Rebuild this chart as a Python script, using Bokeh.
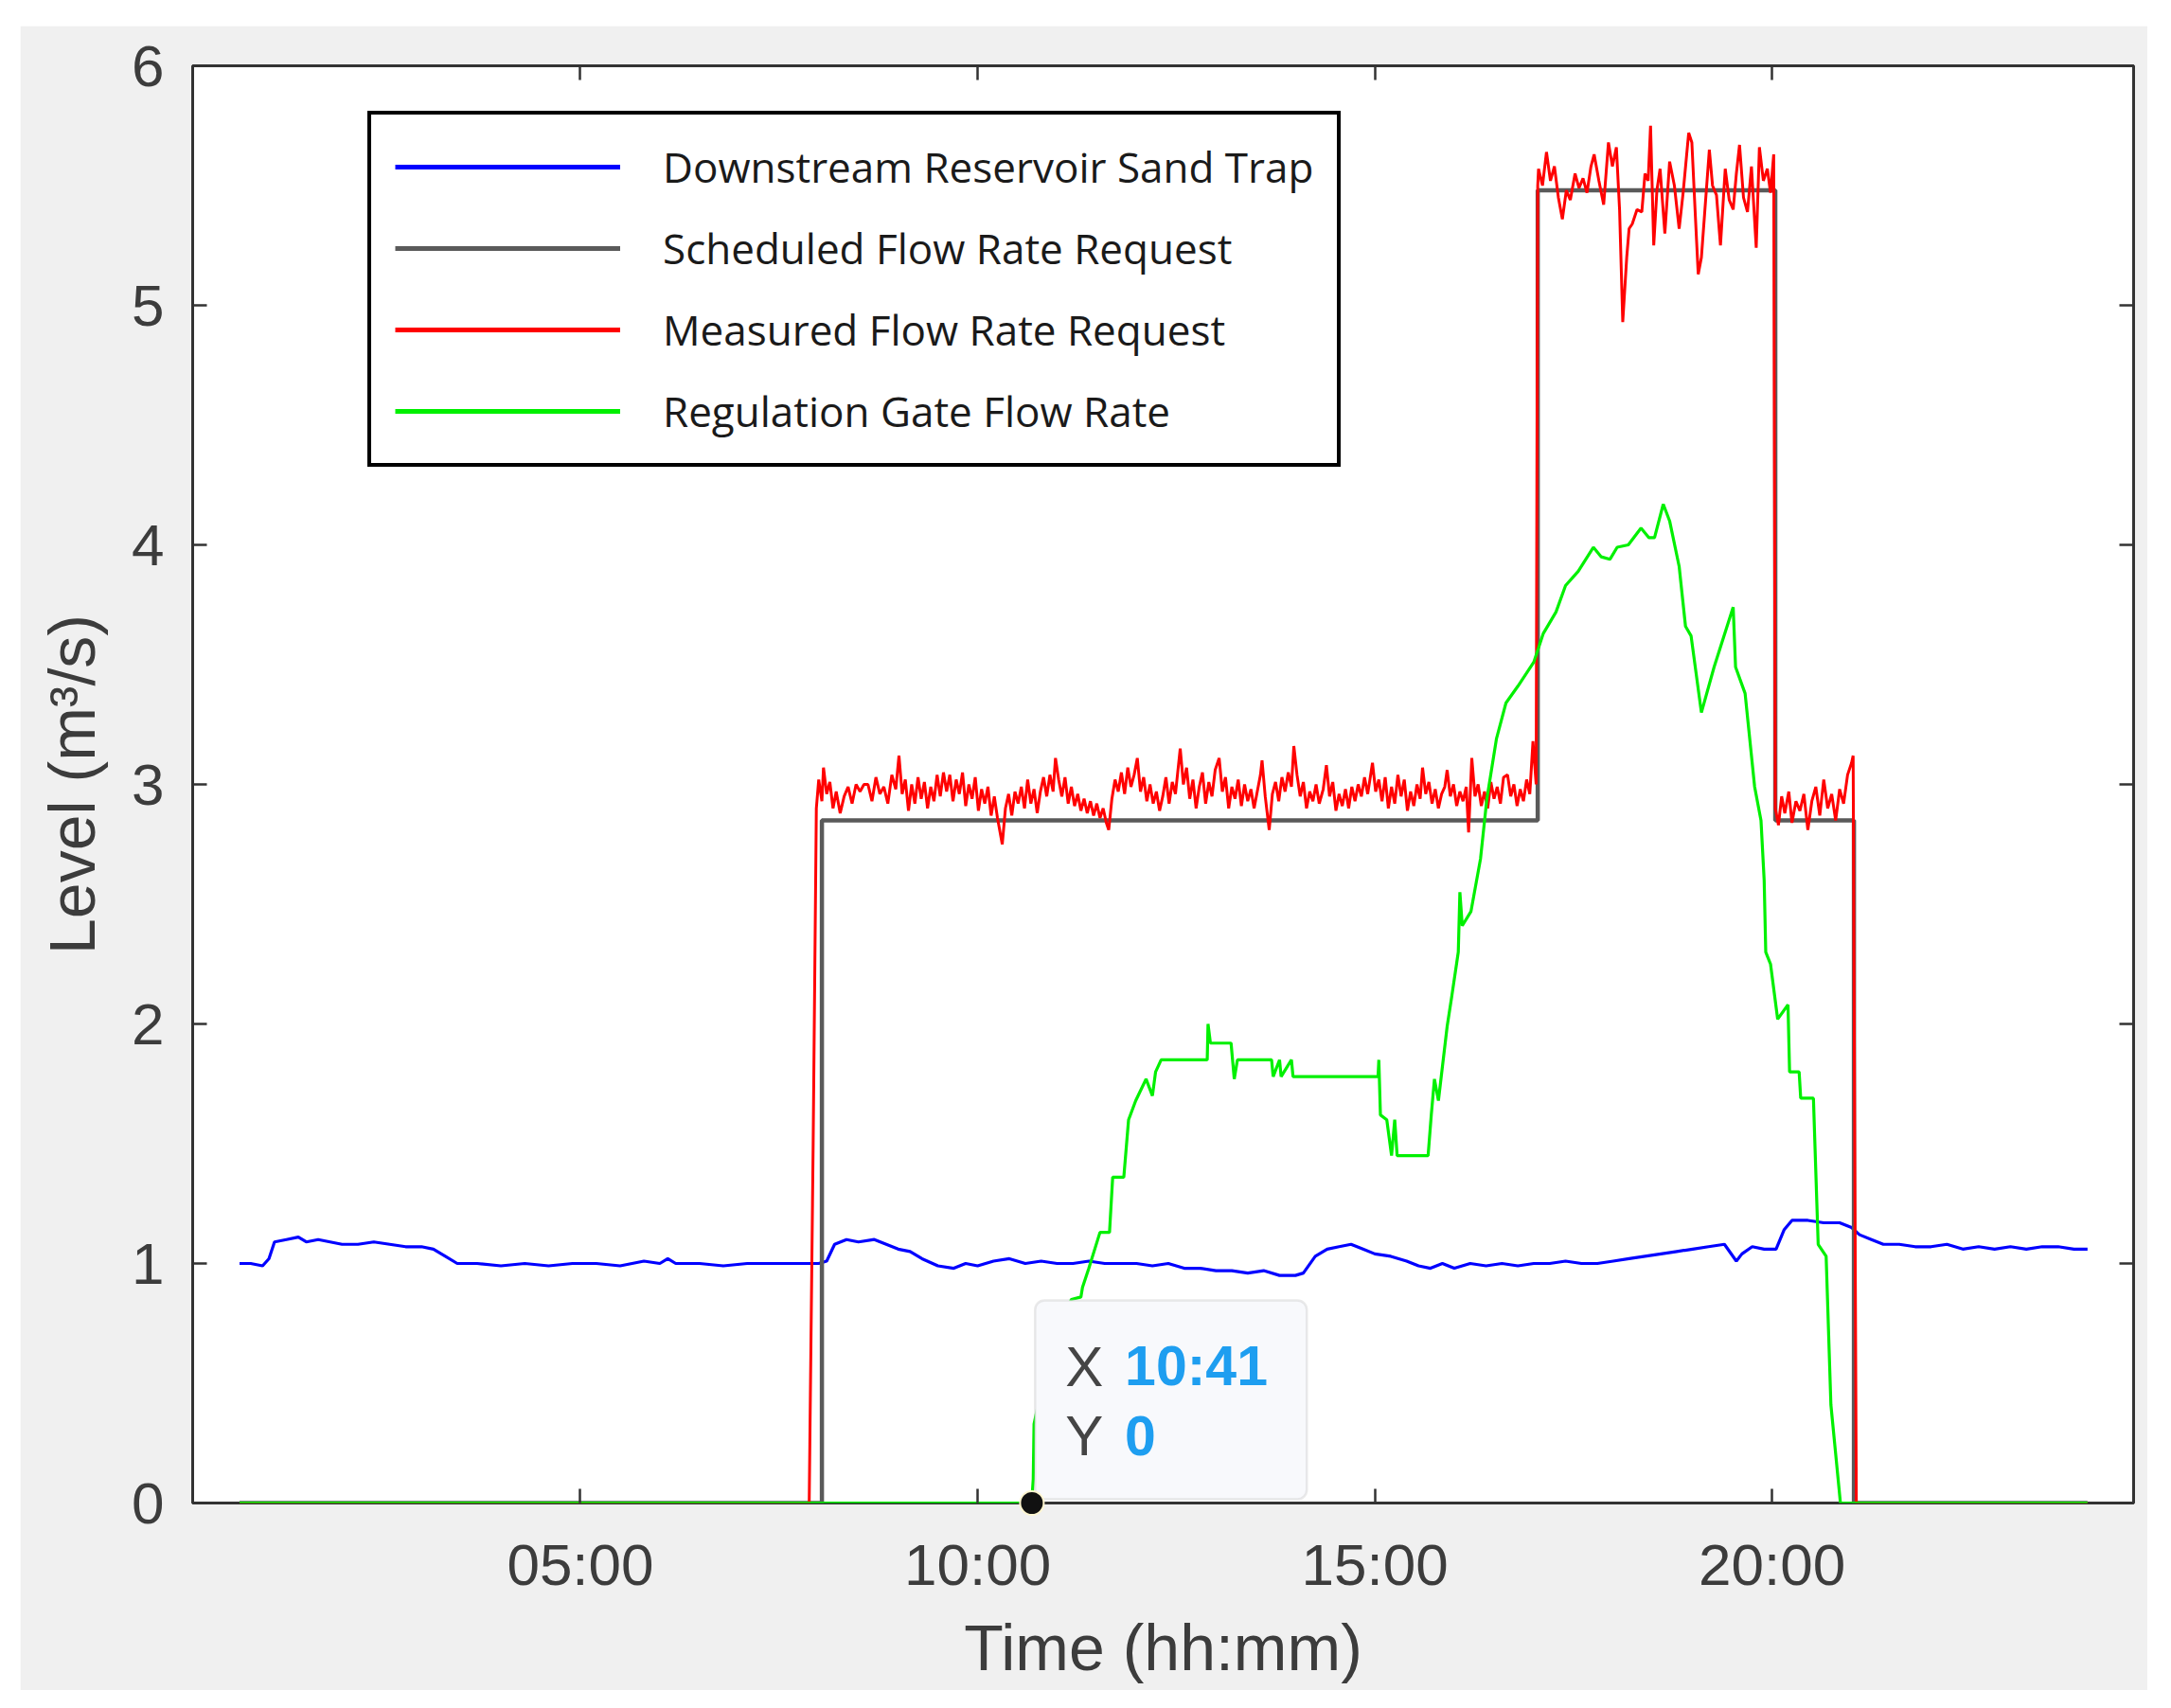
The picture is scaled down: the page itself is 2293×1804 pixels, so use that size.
from bokeh.plotting import figure
from bokeh.models import (Range1d, LinearAxis, FixedTicker, Legend, LegendItem,
                          BoxAnnotation, Label)
from bokeh.embed import file_html
from bokeh.resources import INLINE

# ---------------- data (time in hours of day) ----------------
x_ticks = [5, 10, 15, 20]
x_tick_labels = ["05:00", "10:00", "15:00", "20:00"]
y_ticks = [0, 1, 2, 3, 4, 5, 6]

series_names = ["Downstream Reservoir Sand Trap", "Scheduled Flow Rate Request",
                "Measured Flow Rate Request", "Regulation Gate Flow Rate"]

reservoir_t = [0.71, 0.85, 1.00, 1.08, 1.15, 1.30, 1.45, 1.55, 1.70, 1.85, 2.00, 2.20, 2.40,
               2.60, 2.80, 3.00, 3.15, 3.30, 3.45, 3.70, 4.00, 4.30, 4.60, 4.90, 5.20, 5.50,
               5.80, 6.00, 6.10, 6.20, 6.50, 6.80, 7.10, 7.40, 7.70, 8.00, 8.10, 8.20, 8.35,
               8.50, 8.70, 8.85, 9.00, 9.15, 9.30, 9.50, 9.70, 9.85, 10.00, 10.20, 10.40,
               10.60, 10.80, 11.00, 11.20, 11.40, 11.60, 11.80, 12.00, 12.20, 12.40, 12.60,
               12.80, 13.00, 13.20, 13.40, 13.60, 13.80, 14.00, 14.10, 14.25, 14.40, 14.55,
               14.70, 14.85, 15.00, 15.20, 15.40, 15.55, 15.70, 15.85, 16.00, 16.20, 16.40,
               16.60, 16.80, 17.00, 17.20, 17.40, 17.60, 17.80, 18.00, 18.20, 18.40, 18.60,
               18.80, 19.00, 19.20, 19.40, 19.55, 19.62, 19.75, 19.90, 20.05, 20.15, 20.25,
               20.45, 20.65, 20.85, 21.00, 21.10, 21.25, 21.40, 21.60, 21.80, 22.00, 22.20,
               22.40, 22.60, 22.80, 23.00, 23.20, 23.40, 23.60, 23.80, 23.97]
reservoir_v = [1.00, 1.00, 0.99, 1.02, 1.09, 1.10, 1.11, 1.09, 1.10, 1.09, 1.08, 1.08, 1.09,
               1.08, 1.07, 1.07, 1.06, 1.03, 1.00, 1.00, 0.99, 1.00, 0.99, 1.00, 1.00, 0.99,
               1.01, 1.00, 1.02, 1.00, 1.00, 0.99, 1.00, 1.00, 1.00, 1.00, 1.01, 1.08, 1.10,
               1.09, 1.10, 1.08, 1.06, 1.05, 1.02, 0.99, 0.98, 1.00, 0.99, 1.01, 1.02,
               1.00, 1.01, 1.00, 1.00, 1.01, 1.00, 1.00, 1.00, 0.99, 1.00, 0.98,
               0.98, 0.97, 0.97, 0.96, 0.97, 0.95, 0.95, 0.96, 1.03, 1.06, 1.07,
               1.08, 1.06, 1.04, 1.03, 1.01, 0.99, 0.98, 1.00, 0.98, 1.00, 0.99,
               1.00, 0.99, 1.00, 1.00, 1.01, 1.00, 1.00, 1.01, 1.02, 1.03, 1.04,
               1.05, 1.06, 1.07, 1.08, 1.01, 1.04, 1.07, 1.06, 1.06, 1.14, 1.18,
               1.18, 1.17, 1.17, 1.15, 1.12, 1.10, 1.08, 1.08, 1.07, 1.07, 1.08,
               1.06, 1.07, 1.06, 1.07, 1.06, 1.07, 1.07, 1.06, 1.06]

scheduled_t = [0.71, 8.04, 8.04, 17.05, 17.05, 20.04, 20.04, 21.03, 21.03, 23.97]
scheduled_v = [0.00, 0.00, 2.85, 2.85, 5.48, 5.48, 2.85, 2.85, 0.00, 0.00]

measured_t = [0.71, 7.88, 7.93, 7.97, 8.00, 8.04, 8.06, 8.10, 8.14, 8.18, 8.22, 8.27, 8.32,
              8.37, 8.42, 8.47, 8.52, 8.57, 8.62, 8.67, 8.72, 8.77, 8.82, 8.87, 8.92, 8.97,
              9.01, 9.05, 9.09, 9.13, 9.17, 9.21, 9.25, 9.29, 9.33, 9.37, 9.41, 9.45, 9.49,
              9.53, 9.57, 9.61, 9.65, 9.69, 9.73, 9.77, 9.81, 9.85, 9.89, 9.93, 9.97, 10.01,
              10.05, 10.09, 10.13, 10.17, 10.21, 10.25, 10.31, 10.35, 10.39, 10.43, 10.47,
              10.51, 10.55, 10.59, 10.63, 10.67, 10.71, 10.75, 10.79, 10.83, 10.87, 10.91,
              10.95, 10.98, 11.02, 11.06, 11.10, 11.14, 11.18, 11.22, 11.26, 11.30, 11.34,
              11.38, 11.42, 11.46, 11.50, 11.54, 11.58, 11.62, 11.65, 11.69, 11.73, 11.77,
              11.81, 11.85, 11.89, 11.93, 11.97, 12.01, 12.05, 12.09, 12.13, 12.17, 12.21,
              12.25, 12.29, 12.33, 12.37, 12.41, 12.45, 12.49, 12.55, 12.59, 12.63, 12.67,
              12.71, 12.75, 12.79, 12.83, 12.87, 12.91, 12.95, 12.99, 13.04, 13.08, 13.12,
              13.16, 13.20, 13.24, 13.28, 13.32, 13.36, 13.40, 13.44, 13.48, 13.52, 13.56,
              13.58, 13.62, 13.67, 13.71, 13.75, 13.79, 13.83, 13.87, 13.91, 13.95, 13.98,
              14.02, 14.06, 14.10, 14.14, 14.18, 14.22, 14.26, 14.30, 14.35, 14.39, 14.43,
              14.47, 14.51, 14.55, 14.59, 14.63, 14.67, 14.71, 14.75, 14.79, 14.83, 14.87,
              14.91, 14.97, 15.01, 15.05, 15.09, 15.13, 15.17, 15.21, 15.25, 15.29, 15.33,
              15.37, 15.41, 15.45, 15.49, 15.53, 15.57, 15.60, 15.64, 15.68, 15.72, 15.76,
              15.80, 15.84, 15.88, 15.91, 15.95, 15.99, 16.03, 16.07, 16.11, 16.15, 16.18,
              16.22, 16.26, 16.30, 16.34, 16.38, 16.42, 16.46, 16.50, 16.54, 16.58, 16.62,
              16.67, 16.71, 16.75, 16.79, 16.83, 16.87, 16.91, 16.95, 16.99, 17.03, 17.05,
              17.06, 17.11, 17.16, 17.21, 17.26, 17.31, 17.36, 17.41, 17.46, 17.52, 17.57,
              17.62, 17.67, 17.72, 17.76, 17.82, 17.88, 17.94, 17.99, 18.04, 18.08, 18.12,
              18.17, 18.20, 18.24, 18.30, 18.36, 18.40, 18.44, 18.47, 18.51, 18.55, 18.59,
              18.65, 18.71, 18.77, 18.83, 18.88, 18.95, 18.99, 19.03, 19.07, 19.11, 19.15,
              19.21, 19.25, 19.30, 19.35, 19.41, 19.46, 19.51, 19.55, 19.59, 19.64, 19.69,
              19.74, 19.80, 19.84, 19.89, 19.94, 19.98, 20.02, 20.04, 20.08, 20.12, 20.16,
              20.21, 20.25, 20.30, 20.35, 20.40, 20.45, 20.50, 20.55, 20.60, 20.65, 20.70,
              20.75, 20.80, 20.85, 20.90, 20.95, 21.00, 21.02, 21.04, 21.06, 23.97]
measured_v = [0.00, 0.00, 1.50, 2.90, 3.02, 2.93, 3.07, 2.96, 3.01, 2.90, 2.97, 2.88, 2.95,
              2.99, 2.92, 3.00, 2.97, 3.00, 3.00, 2.93, 3.03, 2.96, 2.99, 2.92, 3.04, 2.98,
              3.12, 2.96, 3.02, 2.89, 3.00, 2.92, 3.03, 2.94, 3.01, 2.90, 2.99, 2.93, 3.04,
              2.95, 3.05, 2.97, 3.04, 2.93, 3.02, 2.96, 3.05, 2.91, 3.00, 2.94, 3.03, 2.89,
              2.98, 2.92, 2.99, 2.87, 2.95, 2.86, 2.75, 2.90, 2.96, 2.87, 2.97,
              2.92, 2.99, 2.90, 3.02, 2.92, 2.98, 2.88, 2.97, 3.03, 2.95, 3.04,
              2.97, 3.11, 3.02, 2.95, 3.03, 2.92, 2.99, 2.91, 2.96, 2.89, 2.94,
              2.88, 2.93, 2.87, 2.92, 2.86, 2.90, 2.84, 2.81, 2.94, 3.02, 2.97,
              3.05, 2.96, 3.07, 2.99, 3.04, 3.11, 2.97, 3.03, 2.93, 3.00, 2.92,
              2.97, 2.89, 2.95, 3.03, 2.92, 3.01, 2.96, 3.15, 3.00, 3.07, 2.94,
              3.02, 2.90, 2.99, 3.05, 2.92, 3.01, 2.95, 3.06, 3.11, 2.97, 3.03,
              2.90, 2.99, 2.94, 3.02, 2.91, 3.00, 2.93, 2.98, 2.90, 2.97, 3.04,
              3.10, 2.95, 2.81, 2.96, 3.01, 2.93, 3.03, 2.97, 3.05, 2.99, 3.16,
              3.04, 2.95, 3.01, 2.90, 2.97, 2.93, 3.00, 2.92, 2.98, 3.08, 2.95,
              3.01, 2.89, 2.96, 2.91, 2.98, 2.90, 2.99, 2.93, 3.00, 2.95, 3.03,
              2.96, 3.09, 2.97, 3.02, 2.93, 3.03, 2.90, 2.99, 2.92, 3.04, 2.95,
              3.02, 2.89, 2.97, 2.91, 3.00, 2.94, 3.07, 2.96, 3.01, 2.92, 2.98,
              2.90, 2.96, 2.99, 3.06, 2.95, 3.00, 2.91, 2.97, 2.93, 2.99, 2.80,
              3.11, 2.95, 3.00, 2.91, 2.97, 2.90, 3.01, 2.94, 2.99, 2.92, 3.03,
              3.04, 2.95, 3.00, 2.91, 2.98, 2.93, 3.02, 2.96, 3.18, 3.00, 5.50,
              5.57, 5.50, 5.64, 5.52, 5.58, 5.45, 5.36, 5.48, 5.44, 5.55, 5.49,
              5.53, 5.47, 5.58, 5.63, 5.52, 5.42, 5.68, 5.58, 5.66, 5.40, 4.93,
              5.20, 5.32, 5.34, 5.40, 5.39, 5.55, 5.52, 5.75, 5.25, 5.48, 5.57,
              5.30, 5.60, 5.50, 5.32, 5.47, 5.72, 5.68, 5.40, 5.13, 5.20, 5.38,
              5.65, 5.50, 5.46, 5.25, 5.57, 5.44, 5.40, 5.55, 5.67, 5.45, 5.39,
              5.58, 5.24, 5.66, 5.52, 5.57, 5.47, 5.63, 2.90, 2.83, 2.95, 2.88,
              2.97, 2.84, 2.93, 2.89, 2.96, 2.81, 2.93, 2.99, 2.87, 3.02, 2.90,
              2.96, 2.85, 2.98, 2.92, 3.04, 3.09, 3.12, 1.50, 0.00, 0.00]

gate_t = [0.71, 10.68, 10.70, 10.71, 10.85, 11.05, 11.18, 11.30, 11.32, 11.40, 11.54, 11.66,
          11.70, 11.84, 11.90, 11.99, 12.12, 12.20, 12.24, 12.31, 12.89, 12.90, 12.93, 13.19,
          13.23, 13.27, 13.70, 13.72, 13.80, 13.82, 13.95, 13.97, 15.04, 15.05, 15.07, 15.15,
          15.21, 15.25, 15.28, 15.67, 15.71, 15.75, 15.80, 15.91, 15.97, 16.05, 16.07, 16.10,
          16.21, 16.33, 16.41, 16.53, 16.65, 16.80, 17.00, 17.12, 17.28, 17.40, 17.56, 17.75,
          17.85, 17.96, 18.05, 18.19, 18.35, 18.45, 18.52, 18.63, 18.71, 18.83, 18.91, 18.98,
          19.11, 19.27, 19.51, 19.54, 19.66, 19.78, 19.86, 19.90, 19.92, 19.98, 20.07, 20.20,
          20.22, 20.34, 20.36, 20.52, 20.58, 20.68, 20.74, 20.86, 23.97]
gate_v = [0.00, 0.00, 0.10, 0.33, 0.55, 0.75, 0.85, 0.86, 0.90, 0.98, 1.13, 1.13,
          1.36, 1.36, 1.60, 1.68, 1.77, 1.70, 1.80, 1.85, 1.85, 2.00, 1.92, 1.92,
          1.77, 1.85, 1.85, 1.78, 1.85, 1.78, 1.85, 1.78, 1.78, 1.85, 1.62, 1.60,
          1.45, 1.60, 1.45, 1.45, 1.62, 1.77, 1.68, 1.99, 2.12, 2.30, 2.55, 2.41,
          2.47, 2.69, 2.94, 3.19, 3.34, 3.41, 3.51, 3.63, 3.72, 3.83, 3.89, 3.99,
          3.95, 3.94, 3.99, 4.00, 4.07, 4.03, 4.03, 4.17, 4.10, 3.91, 3.66, 3.62,
          3.30, 3.49, 3.74, 3.49, 3.38, 2.99, 2.85, 2.60, 2.30, 2.25, 2.02, 2.08,
          1.80, 1.80, 1.69, 1.69, 1.08, 1.03, 0.41, 0.00, 0.00]

tip_hour, tip_minute = 10, 41
tip_value = 0
tip_x_text = "10:41"
tip_y_text = "0"

# ---------------- figure ----------------
AX = "#333333"
TXT = "#3c3c3c"

p = figure(width=2247, height=1758, x_range=Range1d(0.12, 24.55), y_range=Range1d(0, 6),
           output_backend="svg", toolbar_location=None,
           min_border_left=182, min_border_right=15, min_border_top=42, min_border_bottom=198,
           background_fill_color="white", border_fill_color="#f0f0f0")
p.margin = (27, 0, 0, 21)
p.xgrid.visible = False
p.ygrid.visible = False
p.outline_line_color = AX
p.outline_line_width = 3

bottom_axis = p.below[0]
left_axis = p.left[0]
bottom_axis.ticker = FixedTicker(ticks=x_ticks)
bottom_axis.major_label_overrides = dict(zip(x_ticks, x_tick_labels))
left_axis.ticker = FixedTicker(ticks=y_ticks)

top_axis = LinearAxis(ticker=FixedTicker(ticks=x_ticks),
                      major_label_overrides={t: "" for t in x_ticks},
                      major_label_standoff=0)
right_axis = LinearAxis(ticker=FixedTicker(ticks=y_ticks),
                        major_label_overrides={t: "" for t in y_ticks},
                        major_label_standoff=0)
p.add_layout(top_axis, "above")
p.add_layout(right_axis, "right")

for ax in [bottom_axis, left_axis, top_axis, right_axis]:
    ax.axis_line_color = None
    ax.major_tick_in = 15
    ax.major_tick_out = 0
    ax.major_tick_line_color = AX
    ax.major_tick_line_width = 2.5
    ax.minor_tick_line_color = None
    ax.major_label_text_font = "Liberation Sans"
    ax.major_label_text_color = TXT

for ax in [bottom_axis, left_axis]:
    ax.major_label_text_font_size = "62px"
    ax.major_label_standoff = 30
    ax.axis_label_text_font = "Liberation Sans"
    ax.axis_label_text_font_size = "68px"
    ax.axis_label_text_font_style = "normal"
    ax.axis_label_text_color = TXT
bottom_axis.axis_label = "Time (hh:mm)"
left_axis.axis_label = "Level (m³/s)"
bottom_axis.axis_label_standoff = 12
left_axis.axis_label_standoff = 22

colors = ["#0000ff", "#5a5a5a", "#ff0000", "#00f000"]
p.line(reservoir_t, reservoir_v, line_color=colors[0], line_width=3.2)
p.line(scheduled_t, scheduled_v, line_color=colors[1], line_width=4.5)
p.line(measured_t, measured_v, line_color=colors[2], line_width=3)
p.line(gate_t, gate_v, line_color=colors[3], line_width=3.2)

# legend entries with thicker sample lines (renderers hold no visible data)
items = []
for name, c in zip(series_names, colors):
    r = p.line(x=[float("nan")], y=[float("nan")], line_color=c, line_width=5)
    items.append(LegendItem(label=name, renderers=[r]))
legend = Legend(items=items, location=(185, 1094), margin=0,
                border_line_color="black", border_line_width=4, border_line_alpha=1.0,
                background_fill_color="white", background_fill_alpha=1.0,
                label_text_font="Open Sans", label_text_font_size="44px",
                label_text_color="#1a1a1a", glyph_width=238, glyph_height=40,
                label_height=40, spacing=26, padding=25, label_standoff=45)
p.add_layout(legend, "center")

# data tip
tip_x = tip_hour + tip_minute / 60.0
box = BoxAnnotation(left=tip_x + 0.04, right=tip_x + 3.46, bottom=tip_value + 0.016,
                    top=tip_value + 0.846, fill_color="#f8f9fc", fill_alpha=1.0,
                    line_color="#b8b8b8", line_width=2.5, border_radius=10)
p.add_layout(box)
dot = p.scatter([tip_x], [tip_value], size=25, fill_color="#111111",
                line_color="#fff6d0", line_width=2)
dot.level = "overlay"
for lab, val, yy in [("X", tip_x_text, 0.57), ("Y", tip_y_text, 0.28)]:
    p.add_layout(Label(x=tip_x + 0.42, y=tip_value + yy, text=lab, text_font="Liberation Sans",
                       text_font_size="60px", text_color="#454545",
                       text_baseline="middle", text_align="left"))
    p.add_layout(Label(x=tip_x + 1.17, y=tip_value + yy, text=val, text_font="Liberation Sans",
                       text_font_size="59px", text_font_style="bold", text_color="#1e9ef0",
                       text_baseline="middle", text_align="left"))

open("out.html", "w").write(file_html(p, INLINE))
